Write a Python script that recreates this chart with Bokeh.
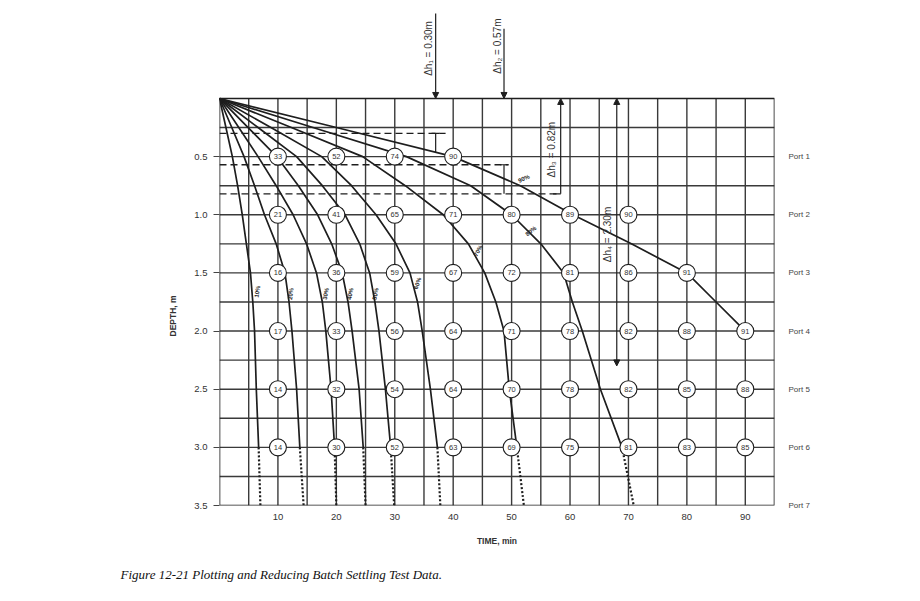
import math
from bokeh.plotting import figure
from bokeh.models import (Range1d, FixedTicker, NumeralTickFormatter, ColumnDataSource,
                          Label, Arrow, NormalHead, Title, LinearAxis)
from bokeh.core.properties import value
from bokeh.embed import file_html
from bokeh.resources import INLINE

# ---------------- data ----------------
times = [10, 20, 30, 40, 50, 60, 70, 80, 90]
port_depths = [0.5, 1.0, 1.5, 2.0, 2.5, 3.0]
removal_port1 = [33, 52, 74, 90]
removal_port2 = [21, 41, 65, 71, 80, 89, 90]
removal_port3 = [16, 36, 59, 67, 72, 81, 86, 91]
removal_port4 = [17, 33, 56, 64, 71, 78, 82, 88, 91]
removal_port5 = [14, 32, 54, 64, 70, 78, 82, 85, 88]
removal_port6 = [14, 30, 52, 63, 69, 75, 81, 83, 85]
ports_removal = [removal_port1, removal_port2, removal_port3,
                 removal_port4, removal_port5, removal_port6]

port_names = ["Port 1", "Port 2", "Port 3", "Port 4", "Port 5", "Port 6", "Port 7"]
port_name_depths = [0.5, 1.0, 1.5, 2.0, 2.5, 3.0, 3.5]

y_ticks = [0.5, 1.0, 1.5, 2.0, 2.5, 3.0, 3.5]
x_grid = [5, 10, 15, 20, 25, 30, 35, 40, 45, 50, 55, 60, 65, 70, 75, 80, 85, 90]
y_grid = [0.25, 0.5, 0.75, 1.0, 1.25, 1.5, 1.75, 2.0, 2.25, 2.5, 2.75, 3.0, 3.25]
time_max = 95
depth_max = 3.5

# iso-removal curves: time (min) at each depth (m)
curve_names = ["10%", "20%", "30%", "40%", "50%", "60%", "70%", "80%", "90%"]
curve_depths = [0.0, 0.25, 0.5, 0.75, 1.0, 1.25, 1.5, 1.75, 2.0, 2.5, 3.0]
curve_10 = [0.0, 1.1, 2.2, 3.1, 3.9, 4.6, 5.3, 5.7, 6.0, 6.3, 6.7]
curve_20 = [0.0, 2.1, 4.2, 6.0, 7.7, 9.7, 11.2, 11.9, 12.4, 13.2, 13.75]
curve_30 = [0.0, 3.3, 6.6, 9.7, 12.6, 14.9, 16.6, 17.6, 18.2, 19.1, 19.7]
curve_40 = [0.0, 4.9, 9.8, 13.5, 16.8, 19.2, 21.0, 22.0, 22.7, 23.9, 24.6]
curve_50 = [0.0, 6.6, 13.2, 17.6, 21.5, 24.0, 25.7, 26.6, 27.3, 28.4, 29.3]
curve_60 = [0.0, 8.8, 17.5, 22.6, 26.8, 30.2, 32.6, 33.9, 34.7, 36.1, 37.3]
curve_70 = [0.0, 12.3, 24.5, 31.8, 38.3, 42.6, 45.4, 47.3, 48.7, 49.6, 50.9]
curve_80 = [0.0, 16.0, 32.0, 43.0, 50.0, 55.0, 58.9, 60.4, 62.1, 65.2, 68.9]
curve_90_depths = [0.0, 0.25, 0.5, 0.75, 1.0, 1.25, 1.5, 1.75, 2.0]
curve_90 = [0.0, 20.0, 40.0, 51.5, 60.5, 70.5, 80.0, 85.0, 90.0]
solid_curves = [curve_10, curve_20, curve_30, curve_40, curve_50, curve_60, curve_70, curve_80]
dotted_end_times = [7.0, 14.4, 20.0, 25.0, 29.9, 37.8, 52.1, 70.9]

curve_label_x = [6.5, 12.2, 18.2, 22.4, 26.7, 33.9, 44.3, 53.3, 52.1]
curve_label_y = [1.66, 1.68, 1.68, 1.68, 1.68, 1.59, 1.31, 1.14, 0.69]
# clockwise tilt on screen, in degrees (the depth axis runs downward)
curve_label_tilt_deg = [82, 82, 80, 80, 78, 72, 60, 40, 23]

dh_times = [37.0, 48.7, 58.4, 68.0]
dh_values = [0.30, 0.57, 0.82, 2.30]
dh_texts = ["\u0394h\u2081 = 0.30m", "\u0394h\u2082 = 0.57m", "\u0394h\u2083 = 0.82m", "\u0394h\u2084 = 2.30m"]

caption = "Figure 12-21 Plotting and Reducing Batch Settling Test Data."

# ---------------- figure ----------------
INK = "#1e1e1e"
GRID = "#3a3a3a"
TXT = "#333333"
FONT = "Liberation Sans"

p = figure(width=844, height=601, x_range=Range1d(0, time_max), y_range=Range1d(depth_max, -0.765),
           output_backend="svg", toolbar_location=None,
           min_border_left=219, min_border_right=70, min_border_top=9, min_border_bottom=96)
p.background_fill_color = "white"
p.border_fill_color = "white"
p.outline_line_color = None
p.grid.visible = False

xax = p.xaxis[0]
yax = p.yaxis[0]
xax.ticker = FixedTicker(ticks=times)
yax.ticker = FixedTicker(ticks=y_ticks)
yax.formatter = NumeralTickFormatter(format="0.0")
for ax in (xax, yax):
    ax.axis_line_color = None
    ax.minor_tick_line_color = None
    ax.major_tick_line_color = "#444444"
    ax.major_tick_in = 0
    ax.major_label_text_font = FONT
    ax.major_label_text_font_size = "9.5px"
    ax.major_label_text_color = TXT
xax.major_tick_out = 0
xax.major_label_standoff = 8
yax.major_tick_out = 6
yax.major_label_standoff = 6
xax.axis_label = "TIME, min"
xax.axis_label_text_font = FONT
xax.axis_label_text_font_size = "8.5px"
xax.axis_label_text_font_style = "bold"
xax.axis_label_text_color = TXT
xax.axis_label_standoff = 13

# right axis carries the port names
rax = LinearAxis(ticker=FixedTicker(ticks=port_name_depths),
                 major_label_overrides={d: n for d, n in zip(port_name_depths, port_names)})
rax.axis_line_color = None
rax.minor_tick_line_color = None
rax.major_tick_line_color = None
rax.major_tick_in = 0
rax.major_tick_out = 0
rax.major_label_standoff = 14
rax.major_label_text_font = FONT
rax.major_label_text_font_size = "8px"
rax.major_label_text_color = "#444444"
p.add_layout(rax, "right")

# depth label (left) and caption (below)
p.add_layout(Title(text="DEPTH, m", align="left", offset=169, vertical_align="middle",
                   standoff=26, text_font=FONT, text_font_size="8.5px", text_font_style="bold",
                   text_color=TXT), "left")
p.add_layout(Title(text=caption, align="left", offset=-99, vertical_align="middle",
                   standoff=34, text_font="Liberation Serif", text_font_style="italic",
                   text_font_size="13px", text_color="#111111"), "below")

# grid and border of the chart area
p.segment(x0=x_grid, y0=[0] * len(x_grid), x1=x_grid, y1=[depth_max] * len(x_grid),
          line_color=GRID, line_width=1.4)
p.segment(x0=[0] * len(y_grid), y0=y_grid, x1=[time_max] * len(y_grid), y1=y_grid,
          line_color=GRID, line_width=1.4)
p.quad(left=[0], right=[time_max], top=[0], bottom=[depth_max], fill_color=None,
       line_color=INK, line_width=1.6)

# dashed delta-h levels
dash_src = ColumnDataSource(dict(x0=[0, 0, 0], x1=[dh_times[0] + 1.7, dh_times[1] + 0.8, dh_times[2]],
                                 y=dh_values[:3]))
p.segment(x0="x0", y0="y", x1="x1", y1="y", source=dash_src, line_color=INK,
          line_width=1.3, line_dash="7 4")

# iso-removal curves
for ts in solid_curves:
    p.line(ts, curve_depths, line_color=INK, line_width=1.7)
p.line(curve_90, curve_90_depths, line_color=INK, line_width=1.7)
for ts, te in zip(solid_curves, dotted_end_times):
    p.line([ts[-1], te], [curve_depths[-1], depth_max], line_color=INK,
           line_width=2.2, line_dash="2 2")

# curve labels
p.text(x=curve_label_x, y=curve_label_y, text=curve_names,
       angle=[math.radians(a) for a in curve_label_tilt_deg],
       text_font=value(FONT), text_font_size="6px", text_font_style="bold",
       text_color=INK, text_align="center", text_baseline="middle")

# circled data points
pt_t, pt_d, pt_v = [], [], []
for d, vals in zip(port_depths, ports_removal):
    for t, v in zip(times, vals):
        pt_t.append(t); pt_d.append(d); pt_v.append(str(v))
pts = ColumnDataSource(dict(t=pt_t, d=pt_d, v=pt_v))
p.scatter(x="t", y="d", source=pts, marker="circle", size=17, fill_color="white",
          line_color=INK, line_width=1.1)
p.text(x="t", y="d", text="v", source=pts, text_font=value(FONT), text_font_size="7.5px",
       text_color=TXT, text_align="center", text_baseline="middle")

# delta-h markers
head = dict(size=6, fill_color=INK, line_color=INK)
top_src = ColumnDataSource(dict(x=dh_times[:2], y0=[-0.73, -0.60], y1=[0.0, 0.0]))
p.add_layout(Arrow(end=NormalHead(**head), source=top_src,
                   x_start="x", y_start="y0", x_end="x", y_end="y1",
                   line_color=INK, line_width=1.2))
inner_src = ColumnDataSource(dict(x=dh_times[:2], y0=[dh_values[0], dh_values[1]], y1=[0.47, dh_values[2]]))
p.segment(x0="x", y0="y0", x1="x", y1="y1", source=inner_src, line_color=INK, line_width=1.2)
p.segment(x0=[t - 0.7 for t in dh_times[:2]], y0=[dh_values[0], dh_values[1]],
          x1=[t + 0.7 for t in dh_times[:2]], y1=[dh_values[0], dh_values[1]],
          line_color=INK, line_width=1.2)
p.add_layout(Arrow(end=NormalHead(**head),
                   x_start=dh_times[2], y_start=dh_values[2], x_end=dh_times[2], y_end=0.0,
                   line_color=INK, line_width=1.2))
p.segment(x0=[dh_times[2] - 1.3], y0=[dh_values[2]], x1=[dh_times[2]], y1=[dh_values[2]],
          line_color=INK, line_width=1.4)
p.add_layout(Arrow(start=NormalHead(**head), end=NormalHead(**head),
                   x_start=dh_times[3], y_start=dh_values[3], x_end=dh_times[3], y_end=0.0,
                   line_color=INK, line_width=1.2))

# delta-h texts
dh_lab_x = [dh_times[0] - 1.3, dh_times[1] - 1.2, dh_times[2] - 1.6, dh_times[3] - 1.6]
dh_lab_y = [-0.43, -0.45, 0.44, 1.17]
for x, y, t in zip(dh_lab_x, dh_lab_y, dh_texts):
    p.add_layout(Label(x=x, y=y, text=t, angle=math.pi / 2, text_align="center",
                       text_baseline="middle", text_font=FONT, text_font_size="10px",
                       text_color=TXT))

open("out.html", "w").write(file_html(p, INLINE))
